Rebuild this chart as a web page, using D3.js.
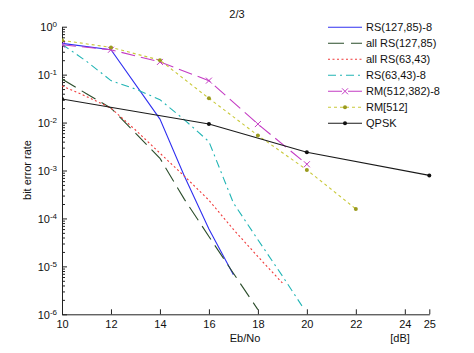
<!DOCTYPE html>
<html>
<head>
<meta charset="utf-8">
<script src="https://cdn.jsdelivr.net/npm/d3@7"></script>
<style>
    body { margin: 0; background: #fff; }
    text { font-family: "Liberation Sans", Arial, sans-serif; fill: #111; }
</style>
</head>
<body>
<svg id="chart" width="474" height="353"></svg>
<script>
/* ========================= DATA ======================== */
/* ======================================================= */

const titleText = "2/3";

const rs127x = [10, 12, 14, 15, 16, 17];
const rs127y = [0.45, 0.33, 0.0118, 7.6e-4, 6.0e-5, 6.7e-6];

const allRs127x = [10, 11, 12, 13, 14, 15, 16, 17, 18];
const allRs127y = [0.081, 0.04, 0.02, 0.006, 0.0018, 2.5e-4, 4.2e-5, 7.2e-6, 1.25e-6];

const allRs63x = [10, 11, 12, 13, 14, 15, 16, 17, 18, 19];
const allRs63y = [0.058, 0.035, 0.02, 0.007, 0.0023, 7.6e-4, 2.4e-4, 5.9e-5, 1.6e-5, 4.5e-6];

const rs63x = [10, 11, 12, 13, 14, 15, 16, 17, 18, 19, 19.8];
const rs63y = [0.43, 0.19, 0.075, 0.05, 0.03, 0.0114, 0.004, 2.1e-4, 3.6e-5, 6.3e-6, 1.5e-6];

const rm382x = [10, 12, 14, 16, 18, 20];
const rm382y = [0.42, 0.33, 0.184, 0.075, 0.0093, 0.00135];

const rm512x = [10, 12, 14, 16, 18, 20, 22];
const rm512y = [0.52, 0.37, 0.2, 0.032, 0.0054, 0.00103, 1.58e-4];

const qpskX = [10, 16, 20, 25];
const qpskY = [0.031, 0.0093, 0.0024, 0.00079];

const xTicks = [10, 12, 14, 16, 18, 20, 22, 24, 25];
const yExponents = [0, -1, -2, -3, -4, -5, -6];

/* ======================================================= */
/* ===================== END OF DATA ===================== */

const svg = d3.select("#chart");

const plot = { left: 62, right: 429.3, top: 26.7, bottom: 314.3 };

const x = d3.scaleLinear()
            .domain([10, 25])
            .range([plot.left, plot.right]);
const y = d3.scaleLog()
            .domain([1e-6, 1])
            .range([plot.bottom, plot.top]);

const zip = (xs, ys) => xs.map((d, i) => ({ x: d, y: ys[i] }));

const series = [
    { name: "RS(127,85)-8",   data: zip(rs127x, rs127y),       color: "#3030f0", dash: null,        marker: null },
    { name: "all RS(127,85)", data: zip(allRs127x, allRs127y), color: "#2b4d2b", dash: "16,7",      marker: null },
    { name: "all RS(63,43)",  data: zip(allRs63x, allRs63y),   color: "#f03a3a", dash: "2,2.5",     marker: null },
    { name: "RS(63,43)-8",    data: zip(rs63x, rs63y),         color: "#22b5b5", dash: "8,4,2,4",   marker: null },
    { name: "RM(512,382)-8",  data: zip(rm382x, rm382y),       color: "#c43cc4", dash: "14,6",      marker: "x" },
    { name: "RM[512]",        data: zip(rm512x, rm512y),       color: "#c9c93a", dash: "3,3",       marker: "dot", markerColor: "#9a9a1e" },
    { name: "QPSK",           data: zip(qpskX, qpskY),         color: "#1a1a1a", dash: null,        marker: "dot", markerColor: "#111" }
];

/* ========================= AXES ======================== */
/* ======================================================= */

svg.append("clipPath")
   .attr("id", "plotClip")
   .append("rect")
   .attr("x", plot.left)
   .attr("y", plot.top - 4)
   .attr("width", plot.right - plot.left + 4)
   .attr("height", plot.bottom - plot.top + 4);

const xAxis = svg.append("g")
                 .attr("transform", `translate(0,${plot.bottom})`)
                 .call(d3.axisBottom(x)
                         .tickValues(xTicks)
                         .tickSizeInner(-5)
                         .tickSizeOuter(0)
                         .tickPadding(6)
                         .tickFormat(d3.format("d")));
xAxis.selectAll("text").style("font-size", "11px");

const minorTicks = [];
yExponents.slice(1).forEach(e => {
    for (let k = 2; k <= 9; k++) minorTicks.push(k * Math.pow(10, e));
});

svg.append("g")
   .attr("transform", `translate(${plot.left},0)`)
   .call(d3.axisLeft(y)
           .tickValues(minorTicks)
           .tickSizeInner(-3)
           .tickSizeOuter(0)
           .tickFormat(""));

const yAxis = svg.append("g")
                 .attr("transform", `translate(${plot.left},0)`)
                 .call(d3.axisLeft(y)
                         .tickValues(yExponents.map(e => Math.pow(10, e)))
                         .tickSizeInner(-5)
                         .tickSizeOuter(0)
                         .tickFormat(""));

yAxis.selectAll(".tick text").remove();
yAxis.selectAll(".tick")
     .append("text")
     .attr("x", -5)
     .attr("dy", "0.38em")
     .attr("text-anchor", "end")
     .style("font-size", "11px")
     .each(function(d) {
         let t = d3.select(this);
         t.append("tspan").text("10");
         t.append("tspan")
          .attr("dy", "-0.55em")
          .style("font-size", "8px")
          .text(Math.round(Math.log10(d)));
     });

svg.selectAll(".domain").attr("stroke", "#222");
svg.selectAll(".tick line").attr("stroke", "#222");

/* ======================== SERIES ======================= */
/* ======================================================= */

const line = d3.line()
               .x(d => x(d.x))
               .y(d => y(d.y));

const lineView = svg.append("g")
                    .attr("clip-path", "url(#plotClip)");

lineView.selectAll("path")
        .data(series)
        .join("path")
        .attr("d", d => line(d.data))
        .attr("fill", "none")
        .attr("stroke", d => d.color)
        .attr("stroke-width", 1.1)
        .attr("stroke-dasharray", d => d.dash);

function drawMarker(g, s, cx, cy) {
    if (s.marker === "dot") {
        g.append("circle")
         .attr("cx", cx)
         .attr("cy", cy)
         .attr("r", 2)
         .attr("fill", s.markerColor);
    } else if (s.marker === "x") {
        g.append("path")
         .attr("d", `M${cx - 3},${cy - 3}L${cx + 3},${cy + 3}M${cx - 3},${cy + 3}L${cx + 3},${cy - 3}`)
         .attr("stroke", s.color)
         .attr("stroke-width", 1);
    }
}

series.filter(s => s.marker).forEach(s => {
    let g = lineView.append("g");
    s.data.forEach(d => drawMarker(g, s, x(d.x), y(d.y)));
});

/* ======================== LEGEND ======================= */
/* ======================================================= */

const legend = svg.append("g")
                  .attr("transform", "translate(328,27.3)");

series.forEach((s, i) => {
    let row = legend.append("g")
                    .attr("transform", `translate(0,${i * 16})`);
    row.append("line")
       .attr("x1", 0)
       .attr("x2", 34)
       .attr("stroke", s.color)
       .attr("stroke-width", 1.1)
       .attr("stroke-dasharray", s.dash);
    drawMarker(row, s, 17, 0);
    row.append("text")
       .attr("x", 38)
       .attr("dy", "0.36em")
       .style("font-size", "11px")
       .text(s.name);
});

/* ======================== LABELS ======================= */
/* ======================================================= */

svg.append("text")
   .attr("x", 237)
   .attr("y", 18)
   .attr("text-anchor", "middle")
   .style("font-size", "11px")
   .text(titleText);

svg.append("text")
   .attr("x", 245)
   .attr("y", 342)
   .attr("text-anchor", "middle")
   .style("font-size", "11px")
   .text("Eb/No");

svg.append("text")
   .attr("x", 400)
   .attr("y", 342)
   .attr("text-anchor", "middle")
   .style("font-size", "11px")
   .text("[dB]");

svg.append("text")
   .attr("transform", "translate(31,170) rotate(-90)")
   .attr("text-anchor", "middle")
   .style("font-size", "11px")
   .text("bit error rate");
</script>
</body>
</html>
